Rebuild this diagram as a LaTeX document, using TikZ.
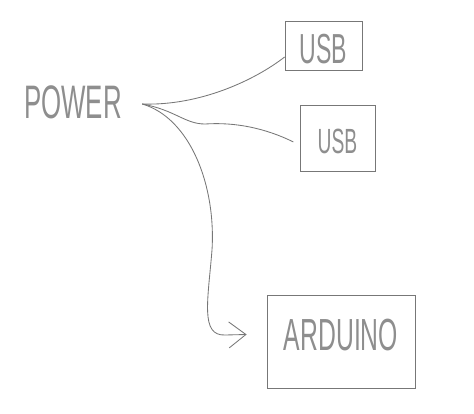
\documentclass[tikz,border=0pt]{standalone}
\usepackage{fontspec}
\newfontfamily\sketchfont[FakeStretch=0.55]{Liberation Sans}
\usetikzlibrary{arrows.meta}
\definecolor{pencil}{HTML}{777777}
\definecolor{lead}{HTML}{8E8E8E}
\tikzstyle{sketch}=[x=1pt, y=-1pt, line width=0.8pt, draw=pencil]
\tikzstyle{lbl}=[inner ysep=0pt, inner xsep=20pt, text=lead, text height=28pt, text depth=0pt, anchor=base, font=\sketchfont\fontsize{47}{47}\selectfont]
\tikzstyle{dev}=[draw=pencil, inner sep=0pt, anchor=base, text=lead]
\tikzstyle{wire}=[draw=pencil, line width=0.85pt]
\tikzstyle{feed}=[wire, -{Straight Barb[length=17pt, width=26pt, sep=20pt]}]

\begin{document}
\begin{tikzpicture}[sketch]
	\useasboundingbox (0,0) rectangle (474,413);
	
	\draw (73,118) node[lbl] (power) {POWER};
	%%
	\draw (323.5,63) node[dev, minimum width=77pt, text height=42pt, text depth=7pt, font=\sketchfont\fontsize{42}{42}\selectfont] (usb1) {USB};
	%%
	\draw (337.5,153) node[dev, minimum width=75pt, text height=48pt, text depth=18pt, font=\sketchfont\fontsize{35}{35}\selectfont] (usb2) {USB};
	%%
	\draw (341,350) node[dev, minimum width=148pt, text height=55pt, text depth=38pt, font=\sketchfont\fontsize{45}{45}\selectfont] (arduino) {ARDUINO};
	%%%%%%
	\draw[wire] (power.east) .. controls (200,106) and (255,80) .. ([yshift=-11.5pt]usb1.west);
	\draw[wire, shorten >=7pt] (power.east) .. controls (175,110) and (185,124) .. (205,124) .. controls (235,122) and (265,128) .. ([yshift=-7pt]usb2.west);
	\draw[feed] (power.east) .. controls (190,118) and (216,185) .. (212,250) .. controls (208,300) and (200,336) .. (225,335) -- ([yshift=7.5pt]arduino.west);
\end{tikzpicture}
\end{document}
